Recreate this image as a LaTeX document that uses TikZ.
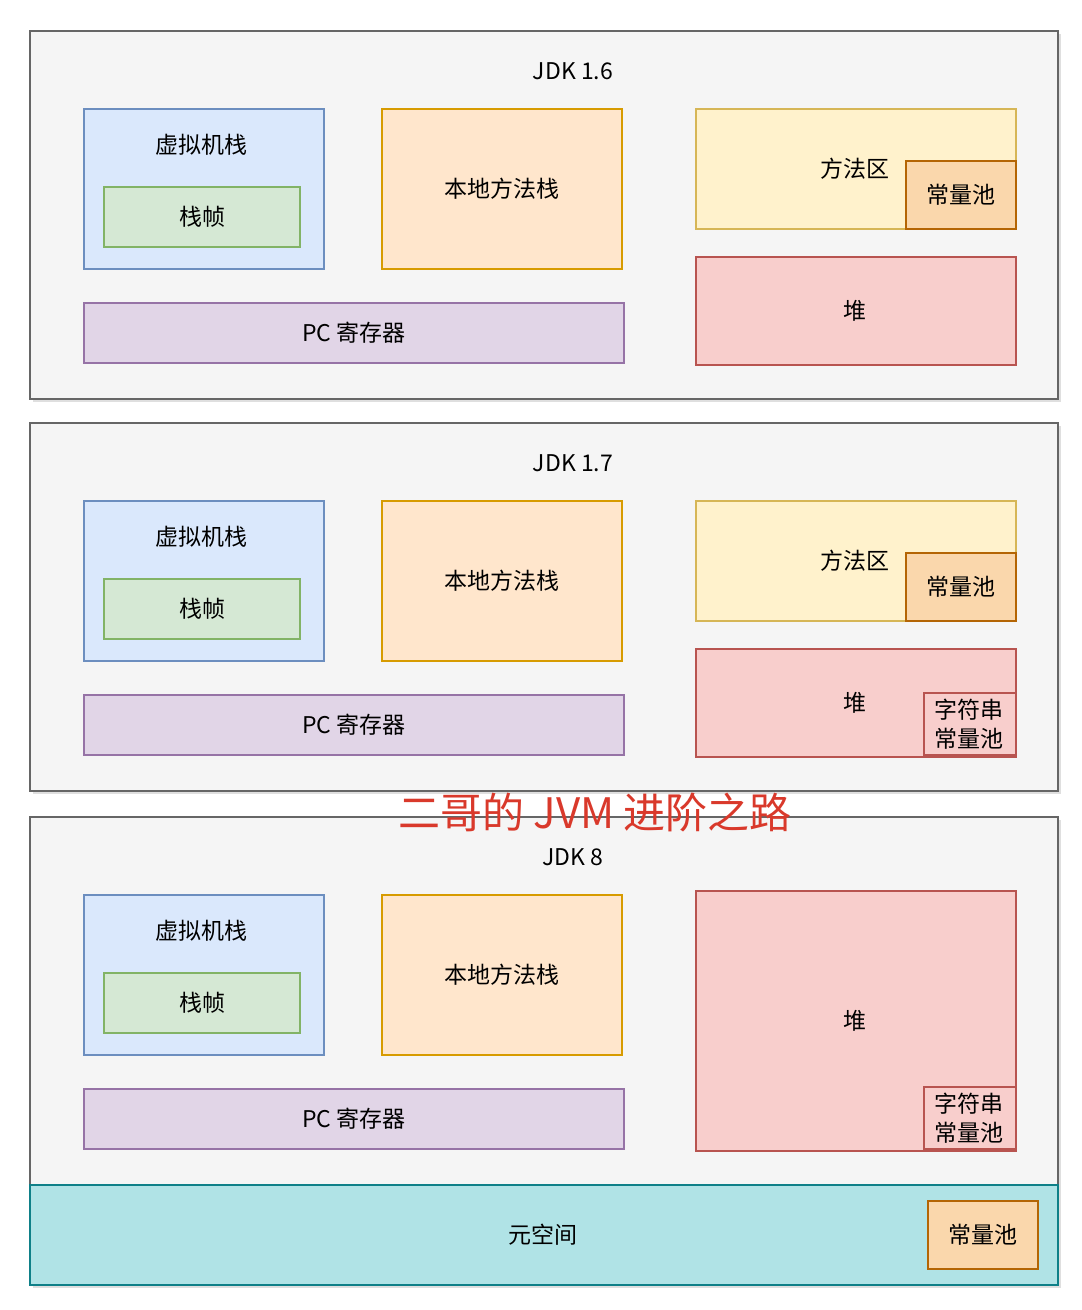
\documentclass[tikz,border=0pt]{standalone}
\usepackage{fontspec}
\setmainfont{Noto Sans CJK SC}
\usetikzlibrary{shadows}
\definecolor{pnl}{HTML}{F5F5F5}\definecolor{pnlD}{HTML}{666666}
\definecolor{bF}{HTML}{DAE8FC}\definecolor{bD}{HTML}{6C8EBF}
\definecolor{gF}{HTML}{D5E8D4}\definecolor{gD}{HTML}{82B366}
\definecolor{oF}{HTML}{FFE6CC}\definecolor{oD}{HTML}{D79B00}
\definecolor{pF}{HTML}{E1D5E7}\definecolor{pD}{HTML}{9673A6}
\definecolor{yF}{HTML}{FFF2CC}\definecolor{yD}{HTML}{D6B656}
\definecolor{cF}{HTML}{FAD7AC}\definecolor{cD}{HTML}{B46504}
\definecolor{rF}{HTML}{F8CECC}\definecolor{rD}{HTML}{B85450}
\definecolor{tF}{HTML}{B0E3E6}\definecolor{tD}{HTML}{0E8088}
\definecolor{wm}{HTML}{D9392B}
\tikzset{lbl/.style={font=\fontsize{23}{29}\selectfont},
 bx/.style={line width=1.3pt}}
\newcommand{\leftpart}[2]{%
 \draw[bx,fill=bF,draw=bD] (84,#1+109) rectangle (324,#1+269);
 \node[lbl] (vm#2) at (201,#1+145) {虚拟机栈};
 \draw[bx,fill=gF,draw=gD] (104,#1+187) rectangle (300,#1+247);
 \node[lbl] (zz#2) at (202,#1+217) {栈帧};
 \draw[bx,fill=oF,draw=oD] (382,#1+109) rectangle (622,#1+269);
 \node[lbl] (nm#2) at (502,#1+189) {本地方法栈};
 \draw[bx,fill=pF,draw=pD] (84,#1+303) rectangle (624,#1+363);
 \node[lbl] (pc#2) at (354,#1+333) {PC 寄存器};}
\begin{document}
\begin{tikzpicture}[x=1pt,y=-1pt]
\useasboundingbox (0,0) rectangle (1082,1310);
% panel 1
\draw[bx,fill=pnl,draw=pnlD,drop shadow={opacity=0.25,shadow xshift=3pt,shadow yshift=-3pt}] (30,31) rectangle (1058,399);
\node[lbl] (t1) at (573,71) {JDK 1.6};
\leftpart{0}{a}
\draw[bx,fill=yF,draw=yD] (696,109) rectangle (1016,229);
\node[lbl] (ma) at (855,169) {方法区};
\draw[bx,fill=cF,draw=cD] (906,161) rectangle (1016,229);
\node[lbl] (ca) at (961,195) {常量池};
\draw[bx,fill=rF,draw=rD] (696,257) rectangle (1016,365);
\node[lbl] (ha) at (855,311) {堆};
% panel 2
\draw[bx,fill=pnl,draw=pnlD,drop shadow={opacity=0.25,shadow xshift=3pt,shadow yshift=-3pt}] (30,423) rectangle (1058,791);
\node[lbl] (t2) at (573,463) {JDK 1.7};
\leftpart{392}{b}
\draw[bx,fill=yF,draw=yD] (696,501) rectangle (1016,621);
\node[lbl] (mb) at (855,561) {方法区};
\draw[bx,fill=cF,draw=cD] (906,553) rectangle (1016,621);
\node[lbl] (cb) at (961,587) {常量池};
\draw[bx,fill=rF,draw=rD] (696,649) rectangle (1016,757);
\node[lbl] (hb) at (855,703) {堆};
\draw[bx,fill=rF,draw=rD] (924,693) rectangle (1016,755);
\node[lbl,align=left,inner sep=0pt] (sb) at (969,724) {字符串\\常量池};
% panel 3
\draw[bx,fill=pnl,draw=pnlD,drop shadow={opacity=0.25,shadow xshift=3pt,shadow yshift=-3pt}] (30,817) rectangle (1058,1285);
\node[lbl] (t3) at (573,857) {JDK 8};
\leftpart{786}{c}
\draw[bx,fill=rF,draw=rD] (696,891) rectangle (1016,1151);
\node[lbl] (hc) at (855,1021) {堆};
\draw[bx,fill=rF,draw=rD] (924,1087) rectangle (1016,1149);
\node[lbl,align=left,inner sep=0pt] (sc) at (969,1118) {字符串\\常量池};
\draw[bx,fill=tF,draw=tD] (30,1185) rectangle (1058,1285);
\node[lbl] (ms) at (543,1235) {元空间};
\draw[bx,fill=cF,draw=cD] (928,1201) rectangle (1038,1269);
\node[lbl] (cc) at (983,1235) {常量池};
\node[font=\fontsize{42}{44}\selectfont,text=wm] (wmk) at (595,813) {二哥的 JVM 进阶之路};
\end{tikzpicture}
\end{document}
